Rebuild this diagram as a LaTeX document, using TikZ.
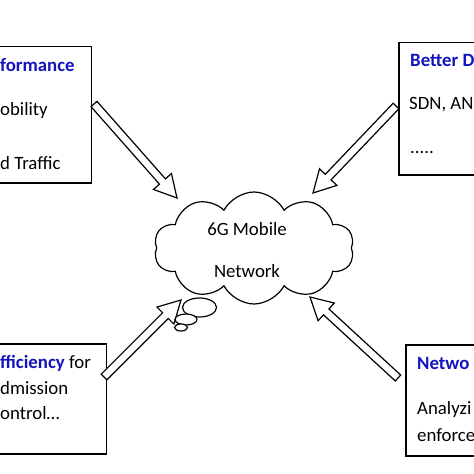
\documentclass[tikz,border=0pt]{standalone}
\usepackage{fontspec}
\setmainfont{Carlito}
\usetikzlibrary{calc,shapes.symbols}
\definecolor{hdblue}{RGB}{20,20,190}
\tikzset{
  box/.style={draw, line width=1.5bp, fill=white, inner sep=0pt},
  lbl/.style={anchor=base west, inner sep=0pt, font=\fontsize{18.8bp}{22bp}\selectfont},
  hd/.style={lbl, text=hdblue, font=\fontsize{18.8bp}{22bp}\selectfont\bfseries},
  blk/.style={draw, fill=white, line width=1.2bp, line join=miter},
  bubble/.style={draw, fill=white, line width=1.2bp}
}
\newcommand\blockarrow[2]{%
  \coordinate (#1h) at ($(#2)!22bp!(#1)$);
  \draw[blk] ($(#1)!4bp!90:(#2)$) -- ($(#1h)!4bp!90:(#2)$) -- ($(#1h)!12bp!90:(#2)$) -- (#2)
    -- ($(#1h)!12bp!-90:(#2)$) -- ($(#1h)!4bp!-90:(#2)$) -- ($(#1)!4bp!-90:(#2)$) -- cycle;}
\begin{document}
\begin{tikzpicture}[x=1bp,y=-1bp]
\useasboundingbox (0,0) rectangle (474,474);
\clip (0,0) rectangle (474,474);
\fill[white] (0,0) rectangle (474,474);
% boxes
\node[box, anchor=north east, minimum width=130bp, minimum height=136bp] (tl) at (92,46) {};
\node[box, anchor=north west, minimum width=120bp, minimum height=132bp] (tr) at (398,42) {};
\node[box, anchor=north east, minimum width=130bp, minimum height=110bp] (bl) at (107,343) {};
\node[box, anchor=north west, minimum width=120bp, minimum height=111bp] (br) at (405,344) {};
% texts
\node[hd] (t1) at (0,72) {formance};
\node[lbl] (t2) at (0,116) {obility};
\node[lbl] (t3) at (0,170) {d Traffic};
\node[hd] (t4) at (410,67) {Better D};
\node[lbl] (t5) at (409,110) {SDN, AN};
\node[lbl] (t6) at (410,154) {.....};
\node[lbl] (t7) at (0,368) {\textcolor{hdblue}{\bfseries fficiency} for};
\node[lbl] (t8) at (0,394) {dmission};
\node[lbl] (t9) at (0,419) {ontrol\dots};
\node[hd] (t10) at (417,369) {Netwo};
\node[lbl] (t11) at (417,414) {Analyzi};
\node[lbl] (t12) at (417,441) {enforce};
% arrow endpoints
\coordinate (a1) at (94,104);
\coordinate (b1) at (177,198);
\coordinate (a2) at (396,106);
\coordinate (b2) at (313,193);
\coordinate (a3) at (104,377);
\coordinate (b3) at (181,300);
\coordinate (a4) at (398,378);
\coordinate (b4) at (310,297);
\blockarrow{a1}{b1}
\blockarrow{a2}{b2}
\blockarrow{a3}{b3}
\blockarrow{a4}{b4}
% cloud
\node[cloud, draw, fill=white, line width=1.2bp, cloud puffs=10, cloud puff arc=125, cloud ignores aspect,
      minimum width=200bp, minimum height=112bp, inner sep=0pt] (cl) at (254,248) {};
\node[lbl, anchor=center] (c1) at (247,229) {6G Mobile};
\node[lbl, anchor=center] (c2) at (247,271) {Network};
% thought bubbles
\draw[bubble] (199.5,307.5) ellipse [x radius=17, y radius=9.5];
\draw[bubble] (186,319.5) ellipse [x radius=11, y radius=5.5];
\draw[bubble] (181,327.5) ellipse [x radius=6.5, y radius=3.5];
\end{tikzpicture}
\end{document}
